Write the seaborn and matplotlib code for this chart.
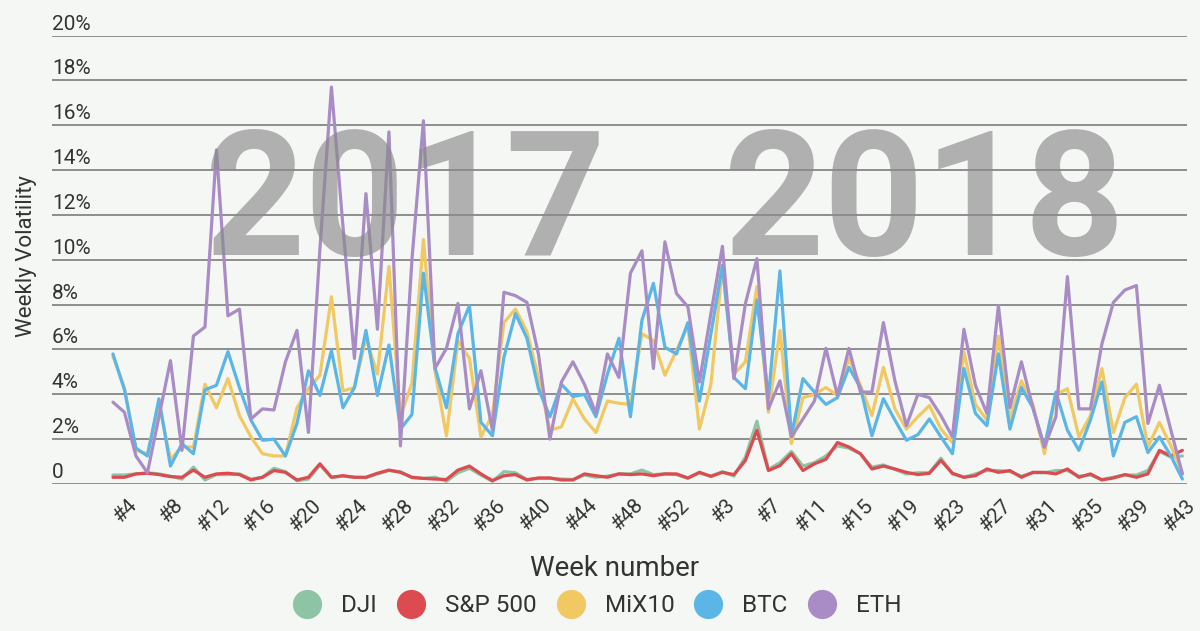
import pandas as pd
import seaborn as sns
import matplotlib.pyplot as plt
from matplotlib.lines import Line2D
from matplotlib.transforms import ScaledTranslation

# semanas: 2017 #3..#53, 2018 #1..#43
weeks_2017 = ['#%d' % w for w in range(3, 54)]
weeks_2018 = ['#%d' % w for w in range(1, 44)]
week_labels = weeks_2017 + weeks_2018

dji = [0.4, 0.4, 0.45, 0.5, 0.45, 0.35, 0.22, 0.75, 0.18, 0.42, 0.42, 0.45, 0.22, 0.3, 0.7, 0.55,
       0.15, 0.22, 0.85, 0.3, 0.35, 0.3, 0.28, 0.45, 0.6, 0.55, 0.28, 0.25, 0.3, 0.12, 0.5, 0.7,
       0.4, 0.12, 0.55, 0.5, 0.2, 0.25, 0.25, 0.22, 0.2, 0.4, 0.3, 0.35, 0.45, 0.45, 0.62, 0.42,
       0.45, 0.42, 0.25, 0.5, 0.35, 0.55, 0.35, 1.2, 2.8, 0.65, 0.95, 1.45, 0.8, 0.95, 1.25, 1.7,
       1.6, 1.35, 0.75, 0.85, 0.65, 0.45, 0.5, 0.5, 1.15, 0.45, 0.3, 0.45, 0.6, 0.6, 0.55, 0.35,
       0.5, 0.5, 0.6, 0.6, 0.35, 0.4, 0.2, 0.3, 0.4, 0.4, 0.6, 1.45, 1.2, 1.25]
sp500 = [0.3, 0.3, 0.45, 0.48, 0.42, 0.33, 0.3, 0.62, 0.3, 0.45, 0.48, 0.42, 0.18, 0.3, 0.6, 0.52,
         0.18, 0.3, 0.9, 0.3, 0.37, 0.3, 0.3, 0.48, 0.62, 0.52, 0.3, 0.25, 0.22, 0.2, 0.62, 0.8,
         0.45, 0.15, 0.37, 0.42, 0.18, 0.27, 0.27, 0.18, 0.18, 0.45, 0.37, 0.3, 0.45, 0.42, 0.45, 0.37,
         0.45, 0.45, 0.27, 0.52, 0.34, 0.52, 0.42, 1.05, 2.4, 0.6, 0.82, 1.35, 0.6, 0.9, 1.1, 1.85,
         1.65, 1.35, 0.67, 0.8, 0.67, 0.52, 0.42, 0.48, 1.05, 0.48, 0.3, 0.37, 0.67, 0.52, 0.6, 0.3,
         0.52, 0.52, 0.45, 0.67, 0.3, 0.45, 0.18, 0.27, 0.42, 0.3, 0.45, 1.5, 1.25, 1.5]
mix10 = [5.7, 4.3, 1.5, 1.35, 3.6, 1.1, 1.65, 1.65, 4.45, 3.4, 4.7, 3.05, 2.1, 1.35, 1.25, 1.25,
         3.4, 4.25, 4.85, 8.35, 4.15, 4.3, 6.5, 4.9, 9.7, 3.0, 4.5, 10.9, 5.05, 2.15, 6.4, 5.6,
         2.1, 3.1, 7.2, 7.8, 6.8, 4.75, 2.4, 2.55, 3.8, 2.9, 2.3, 3.7, 3.6, 3.55, 6.7, 6.4,
         4.85, 5.95, 7.05, 2.45, 4.45, 9.7, 4.9, 5.45, 8.8, 3.2, 6.85, 1.8, 3.85, 4.0, 4.3, 3.95,
         5.6, 4.4, 3.05, 5.2, 3.35, 2.45, 3.0, 3.5, 2.45, 1.85, 5.9, 3.55, 2.85, 6.6, 2.9, 4.6,
         3.55, 1.35, 4.0, 4.25, 2.1, 3.05, 5.15, 2.3, 3.85, 4.45, 1.65, 2.75, 1.7, 0.5]
btc = [5.8, 4.2, 1.6, 1.25, 3.8, 0.8, 1.8, 1.35, 4.2, 4.4, 5.9, 4.3, 2.85, 1.95, 2.0, 1.25,
       2.7, 5.05, 3.95, 5.95, 3.4, 4.3, 6.85, 3.95, 6.2, 2.45, 3.1, 9.4, 5.2, 3.4, 6.7, 7.95,
       2.75, 2.15, 5.65, 7.6, 6.5, 4.25, 3.0, 4.45, 3.9, 4.0, 3.0, 4.9, 6.5, 3.0, 7.3, 8.95,
       6.1, 5.8, 7.2, 3.7, 6.7, 9.75, 4.75, 4.25, 8.2, 3.85, 9.5, 2.15, 4.7, 4.1, 3.55, 3.85,
       5.2, 4.3, 2.15, 3.8, 2.85, 1.95, 2.2, 2.9, 2.1, 1.35, 5.15, 3.15, 2.6, 5.8, 2.45, 4.3,
       3.4, 1.65, 4.1, 2.4, 1.5, 2.85, 4.55, 1.25, 2.75, 3.0, 1.4, 2.1, 1.25, 0.22]
eth = [3.65, 3.2, 1.25, 0.5, 3.0, 5.5, 1.5, 6.6, 7.0, 14.9, 7.5, 7.8, 2.9, 3.35, 3.3, 5.45,
       6.85, 2.3, 10.5, 17.7, 11.5, 5.6, 12.95, 6.9, 15.7, 1.7, 10.0, 16.2, 5.15, 6.05, 8.05, 3.35,
       5.05, 2.4, 8.55, 8.4, 8.1, 5.8, 2.0, 4.55, 5.45, 4.45, 3.15, 5.8, 4.75, 9.4, 10.4, 5.15,
       10.8, 8.5, 7.9, 4.55, 7.6, 10.6, 4.7, 8.05, 10.05, 3.35, 4.6, 2.1, 2.9, 3.7, 6.05, 3.95,
       6.05, 4.1, 4.1, 7.2, 4.6, 2.6, 4.0, 3.85, 3.05, 2.1, 6.9, 4.4, 3.15, 7.95, 3.4, 5.45,
       3.4, 1.65, 3.0, 9.25, 3.35, 3.35, 6.25, 8.1, 8.65, 8.85, 2.7, 4.4, 2.4, 0.45]

series_names = ['DJI', 'S&P 500', 'MiX10', 'BTC', 'ETH']
colores = ['#8cc4a5', '#dc4b50', '#f1c862', '#5bb5e6', '#a98cc6']
ytick_vals = [0, 2, 4, 6, 8, 10, 12, 14, 16, 18, 20]
ytick_labels = ['0', '2%', '4%', '6%', '8%', '10%', '12%', '14%', '16%', '18%', '20%']

df = pd.DataFrame({'pos': range(len(week_labels)), 'DJI': dji, 'S&P 500': sp500,
                   'MiX10': mix10, 'BTC': btc, 'ETH': eth})
df = df.melt(id_vars='pos', var_name='serie', value_name='vol')

bg = '#f4f7f4'
texto = '#333333'
sns.set_style('white')
plt.rcParams['font.family'] = ['Roboto', 'DejaVu Sans']

fig = plt.figure(figsize=(12, 6.31), dpi=100, facecolor=bg)
ax = fig.add_axes([52 / 1200, 1 - 484 / 631, 1135 / 1200, 448.5 / 631])
ax.set_facecolor(bg)

sns.lineplot(data=df, x='pos', y='vol', hue='serie', hue_order=series_names,
             palette=colores, linewidth=2.3, legend=False, ax=ax)

ax.set_xlim(-5.3, 93.4)
ax.set_ylim(0, 20)
for s in ax.spines.values():
    s.set_visible(False)
ax.set_xlabel('')
ax.set_ylabel('')

# grilla horizontal
ax.set_yticks(ytick_vals)
ax.set_yticklabels([])
ax.tick_params(axis='y', length=0)
ax.grid(axis='y', color='#8e8e8e', linewidth=1.4)
ax.grid(axis='x', visible=False)
ax.set_axisbelow(True)
for v, lbl in zip(ytick_vals, ytick_labels):
    ax.annotate(lbl, xy=(0, v), xycoords=('axes fraction', 'data'), xytext=(0, 6),
                textcoords='offset pixels', ha='left', va='baseline', fontsize=15, color=texto)

# etiquetas de semana cada 4
tick_pos = list(range(1, len(week_labels), 4))
ax.set_xticks(tick_pos)
ax.set_xticklabels([week_labels[i] for i in tick_pos])
ax.tick_params(axis='x', length=0, pad=13, labelsize=15, labelcolor=texto)
off = ScaledTranslation(0.1, 0, fig.dpi_scale_trans)
for lab in ax.get_xticklabels():
    lab.set_rotation(45)
    lab.set_ha('right')
    lab.set_va('center')
    lab.set_rotation_mode('anchor')
    lab.set_transform(lab.get_transform() + off)

fig.text(27 / 1200, 1 - 256 / 631, 'Weekly Volatility', rotation=90, ha='center', va='center',
         fontsize=16, color=texto)
fig.text(615 / 1200, 1 - 576 / 631, 'Week number', ha='center', va='baseline',
         fontsize=20, color=texto)

# años grandes encima de las lineas
fig.text(406 / 1200, 1 - 255 / 631, '2017', ha='center', va='baseline', fontsize=126,
         fontweight='bold', color='#8a8a8a', alpha=0.65)
fig.text(925 / 1200, 1 - 255 / 631, '2018', ha='center', va='baseline', fontsize=126,
         fontweight='bold', color='#8a8a8a', alpha=0.65)

handles = [Line2D([], [], linestyle='none', marker='o', markersize=21, markerfacecolor=c,
                  markeredgewidth=0) for c in colores]
fig.legend(handles, series_names, loc='center', bbox_to_anchor=(597 / 1200, 1 - 606 / 631),
           ncol=5, frameon=False, fontsize=17.5, handlelength=1.2, handletextpad=0.8,
           columnspacing=0.8, labelcolor=texto)

fig.savefig('out.png', dpi=100, facecolor=bg)
